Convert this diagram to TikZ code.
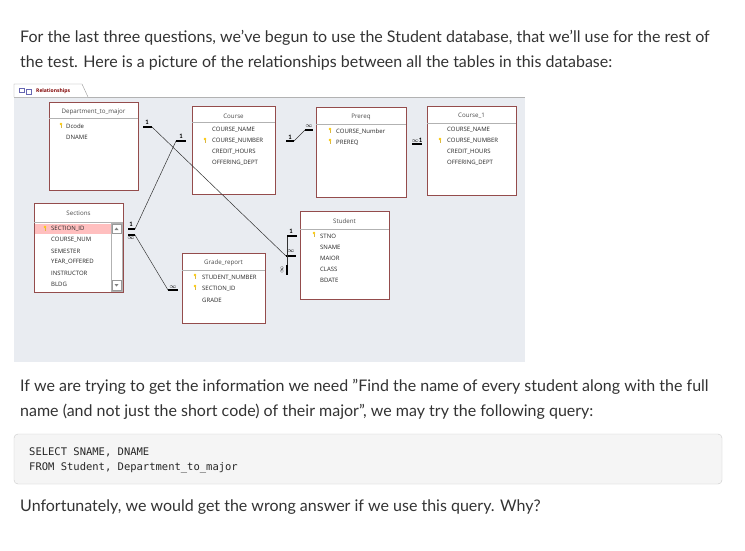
\documentclass[tikz,border=0pt]{standalone}
\usepackage{fontspec}
\setmainfont{Lato}
\setsansfont{Open Sans}
\setmonofont{DejaVu Sans Mono}
\begin{document}
\begin{tikzpicture}[x=1pt,y=-1pt,
  body/.style={anchor=base west,inner sep=0,font=\fontsize{16}{18}\selectfont,text=black!80},
  tbl/.style={draw=red!40!black!70,fill=white,line width=0.7pt},
  ttl/.style={font=\sffamily\fontsize{6.2}{7}\selectfont,text=black!70,inner sep=0},
  fld/.style={font=\sffamily\fontsize{6}{7}\selectfont,anchor=west,inner sep=0,text=black!85},
  rel/.style={draw=black!80,line width=0.5pt},
  card/.style={font=\bfseries\fontsize{6}{7}\selectfont,inner sep=0.5},
  bar/.style={line width=1.4pt,draw=black},
  code/.style={anchor=base west,inner sep=0,font=\ttfamily\fontsize{10.5}{12}\selectfont,text=black!85}]
\useasboundingbox (0,0) rectangle (745,550);
\fill[white] (0,0) rectangle (745,550);
\node[body] (t1) at (20,42) {For the last three questions, we've begun to use the Student database, that we'll use for the rest of};
\node[body] (t2) at (20,67) {the test. Here is a picture of the relationships between all the tables in this database:};
% screenshot
\fill[fill={rgb,255:red,233;green,236;blue,241}] (14,83) rectangle (525,362);
\fill[white] (14,83) rectangle (525,97);
\draw[black!30] (14,97.5) -- (525,97.5);
\draw[black!40,fill=white] (14,97) -- (14,84) -- (82,84) -- (88,97);
\node[font=\sffamily\bfseries\fontsize{5}{6}\selectfont,text=red!50!black,anchor=west,inner sep=0] (tab) at (36,91) {Relationships};
\draw[blue!50!black!60] (19,88) rectangle (24,92) (26,89) rectangle (31,94);
\newcommand{\keyat}[2]{\fill[yellow!60!orange] (#1,#2) circle (1.3);\draw[yellow!40!brown,line width=0.8pt] (#1,#2+1)--(#1,#2+3.5);}
% Department_to_major
\draw[tbl] (49,102) rectangle (138,190); \draw[black!30] (49,118)--(138,118);
\node[ttl] (dtm) at (93.5,112) {Department\_to\_major};
\keyat{61}{124}
\node[fld] (f1) at (66,126) {Dcode};
\node[fld] (f2) at (66,137) {DNAME};
% Course
\draw[tbl] (192,106) rectangle (275,194); \draw[black!30] (192,122)--(275,122);
\node[ttl] (crs) at (233.5,116) {Course};
\node[fld] at (212,130) {COURSE\_NAME};
\keyat{205}{139}
\node[fld] at (212,141) {COURSE\_NUMBER};
\node[fld] at (212,152) {CREDIT\_HOURS};
\node[fld] at (212,163) {OFFERING\_DEPT};
% Prereq
\draw[tbl] (316,107) rectangle (406,197); \draw[black!30] (316,124)--(406,124);
\node[ttl] (prq) at (361,117) {Prereq};
\keyat{330}{129}\node[fld] at (336,132) {COURSE\_Number};
\keyat{330}{140}\node[fld] at (336,143) {PREREQ};
% Course_1
\draw[tbl] (427,106) rectangle (516,195); \draw[black!30] (427,123)--(516,123);
\node[ttl] (c1) at (471.5,116) {Course\_1};
\node[fld] at (447,130) {COURSE\_NAME};
\keyat{440}{139}\node[fld] at (447,141) {COURSE\_NUMBER};
\node[fld] at (447,152) {CREDIT\_HOURS};
\node[fld] at (447,163) {OFFERING\_DEPT};
% Sections
\draw[tbl] (34,203) rectangle (123,292); \draw[black!30] (34,222)--(123,222);
\node[ttl] (sec) at (78.5,213) {Sections};
\fill[red!25] (35,224) rectangle (111,234);
\draw[black!30,fill=white] (111,223) rectangle (122,291);
\draw[black!40] (112,224) rectangle (121,233) (112,280) rectangle (121,290);
\fill[black!50] (114.5,230)--(118.5,230)--(116.5,227.5)--cycle (114.5,284)--(118.5,284)--(116.5,286.5)--cycle;
\keyat{45}{227}\node[fld] at (51,229) {SECTION\_ID};
\node[fld] at (51,240) {COURSE\_NUM};
\node[fld] at (51,251) {SEMESTER};
\node[fld] at (51,262) {YEAR\_OFFERED};
\node[fld] at (51,273) {INSTRUCTOR};
\node[fld] at (51,284) {BLDG};
% Grade_report
\draw[tbl] (182,253) rectangle (265,323); \draw[black!30] (182,270)--(265,270);
\node[ttl] (gr) at (223.5,263) {Grade\_report};
\keyat{195}{275}\node[fld] at (202,278) {STUDENT\_NUMBER};
\keyat{195}{286}\node[fld] at (202,289) {SECTION\_ID};
\node[fld] at (202,300) {GRADE};
% Student
\draw[tbl] (300,211) rectangle (389,299); \draw[black!30] (300,229)--(389,229);
\node[ttl] (stu) at (344.5,221) {Student};
\keyat{314}{233}\node[fld] at (320,236) {STNO};
\node[fld] at (320,247) {SNAME};
\node[fld] at (320,258) {MAIOR};
\node[fld] at (320,269) {CLASS};
\node[fld] at (320,280) {BDATE};
% relationships
\coordinate (a1) at (152,127); \coordinate (a2) at (286,256);
\draw[rel] (a1)--(a2);
\draw[bar] (143,127)--(152,127); \node[card] at (147,122) {1};
\draw[bar] (286,256)--(296,256); \node[card] at (291,251) {$\infty$};
\coordinate (b1) at (176,141); \coordinate (b2) at (135,229);
\draw[rel] (b1)--(b2);
\draw[bar] (176,141)--(186,141); \node[card] at (181,136) {1};
\draw[bar] (128,229)--(135,229); \node[card] at (131,224) {1};
\coordinate (c1a) at (135,235); \coordinate (c2a) at (168,290);
\draw[rel] (c1a)--(c2a);
\draw[bar] (128,235)--(135,235); \node[card] at (131,238) {$\infty$};
\draw[bar] (168,290)--(178,290); \node[card] at (173,287) {$\infty$};
\coordinate (d1) at (287,236); \coordinate (d2) at (287,275);
\draw[rel] (d1)--(d2);
\draw[bar] (287,236)--(297,236); \node[card] at (291,231) {1};
\draw[bar] (287,265)--(287,275); \node[card,rotate=90] at (282,270) {$\infty$};
\coordinate (e1) at (294,141); \coordinate (e2) at (305,130);
\draw[rel] (e1)--(e2);
\draw[bar] (286,141)--(294,141); \node[card] at (290,137) {1};
\draw[bar] (305,130)--(313,130); \node[card] at (309,126) {$\infty$};
\draw[bar] (412,144)--(422,144); \node[card] at (417,140) {$\infty$1};
% lower text
\node[body] (t3) at (20,391) {If we are trying to get the information we need \symbol{34}Find the name of every student along with the full};
\node[body] (t4) at (20,416) {name (and not just the short code) of their major\symbol{34}, we may try the following query:};
\draw[black!20,fill=black!4,rounded corners=4pt] (14,434) rectangle (722,484);
\node[code] (q1) at (29,455) {SELECT SNAME, DNAME};
\node[code] (q2) at (29,470) {FROM Student, Department\_to\_major};
\node[body] (t5) at (20,511) {Unfortunately, we would get the wrong answer if we use this query. Why?};
\end{tikzpicture}
\end{document}
